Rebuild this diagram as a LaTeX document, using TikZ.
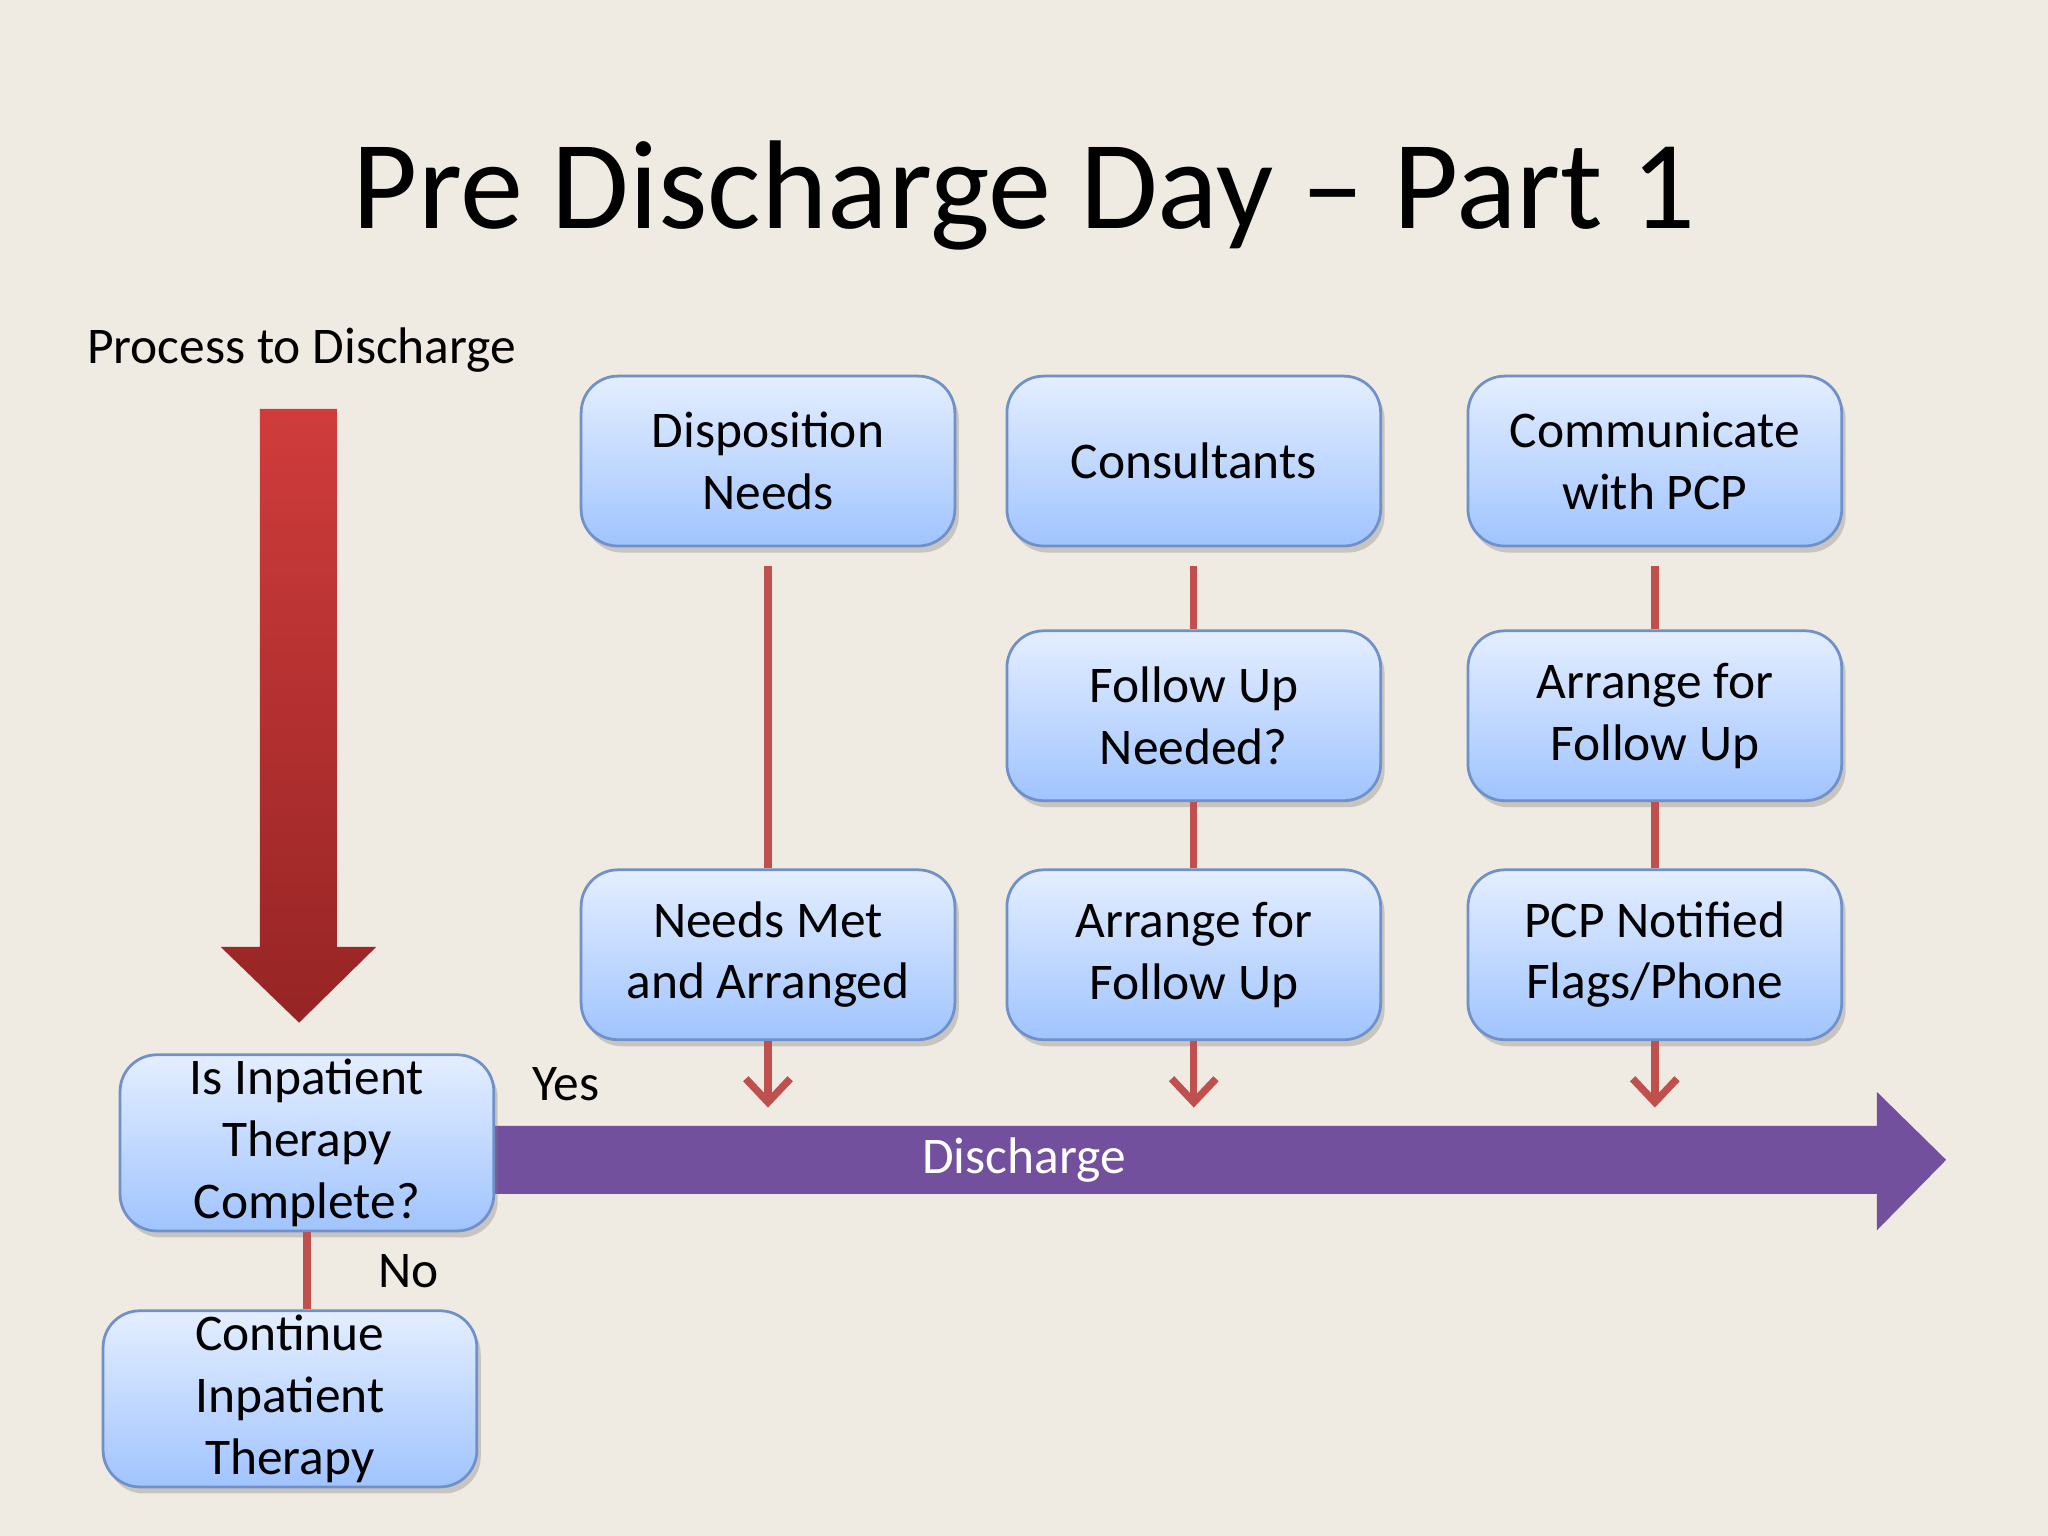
\documentclass[tikz,border=0pt]{standalone}
\usepackage{fontspec}
\setmainfont{Carlito}
\usetikzlibrary{shadows,arrows.meta}
\definecolor{bg}{HTML}{EFEBE3}
\definecolor{bordc}{HTML}{6F90C8}
\definecolor{lnred}{HTML}{C0504D}
\definecolor{boxtop}{HTML}{E4EEFF}
\definecolor{boxbot}{HTML}{A0C4FF}
\definecolor{redtop}{HTML}{D03C3C}
\definecolor{redbot}{HTML}{962424}
\definecolor{purp}{HTML}{72509E}
\tikzset{
  box/.style={draw=bordc, line width=0.6pt, rounded corners=8pt, minimum width=2.86cm, minimum height=1.30cm,
    top color=boxtop, bottom color=boxbot, align=center,
    font=\fontsize{11.2pt}{13.4pt}\selectfont, drop shadow={shadow xshift=0.3mm,shadow yshift=-0.5mm,opacity=0.35}, inner sep=1pt},
  conn/.style={draw=lnred, line width=1.6pt},
  arr/.style={conn, -{Straight Barb[length=1.8mm,width=3.4mm,line width=1.6pt]}},
  lbl/.style={font=\fontsize{11.2pt}{13.4pt}\selectfont}
}
\begin{document}
\begin{tikzpicture}[x=0.01cm,y=-0.01cm]
\fill[bg] (0,0) rectangle (1568,1176);
\useasboundingbox (0,0) rectangle (1568,1176);
\node[font=\fontsize{27.5pt}{32pt}\selectfont] (title) at (784,150) {Pre Discharge Day -- Part 1};
\node[lbl] (proc) at (231,268) {Process to Discharge};
\shade[top color=redtop, bottom color=redbot]
  (199,313) -- (258,313) -- (258,725) -- (288,725) -- (229,783) -- (169,725) -- (199,725) -- cycle;
\fill[purp] (378,862) -- (1437,862) -- (1437,836) -- (1490,888) -- (1437,942) -- (1437,914) -- (378,914) -- cycle;
\node[lbl, text=white] (dis) at (784,888) {Discharge};
\node[box] (dn) at (588,353) {Disposition\\Needs};
\node[box] (co) at (914,353) {Consultants};
\node[box] (cp) at (1267,353) {Communicate\\with PCP};
\node[box] (fu) at (914,548) {Follow Up\\Needed?};
\node[box] (af2) at (1267,548) {Arrange for\\Follow Up};
\node[box] (nm) at (588,731) {Needs Met\\and Arranged};
\node[box] (af1) at (914,731) {Arrange for\\Follow Up};
\node[box] (pn) at (1267,731) {PCP Notified\\Flags/Phone};
\node[box] (it) at (235,875) {Is Inpatient\\Therapy\\Complete?};
\node[box] (ci) at (222,1071) {Continue\\Inpatient\\Therapy};
\coordinate (e1) at (588,848);
\coordinate (e2) at (914,848);
\coordinate (e3) at (1267,848);
\draw[conn] ([yshift=-0.14cm]dn.south) -- (nm.north);
\draw[conn] ([yshift=-0.14cm]co.south) -- (fu.north);
\draw[conn] (fu.south) -- (af1.north);
\draw[conn] ([yshift=-0.14cm]cp.south) -- (af2.north);
\draw[conn] (af2.south) -- (pn.north);
\draw[arr] (nm.south) -- (e1);
\draw[arr] (af1.south) -- (e2);
\draw[arr] (pn.south) -- (e3);
\draw[conn] (it.south) -- (it.south |- ci.north);
\node[lbl] (yes) at (433,830) {Yes};
\node[lbl] (no) at (313,973) {No};
\end{tikzpicture}
\end{document}
